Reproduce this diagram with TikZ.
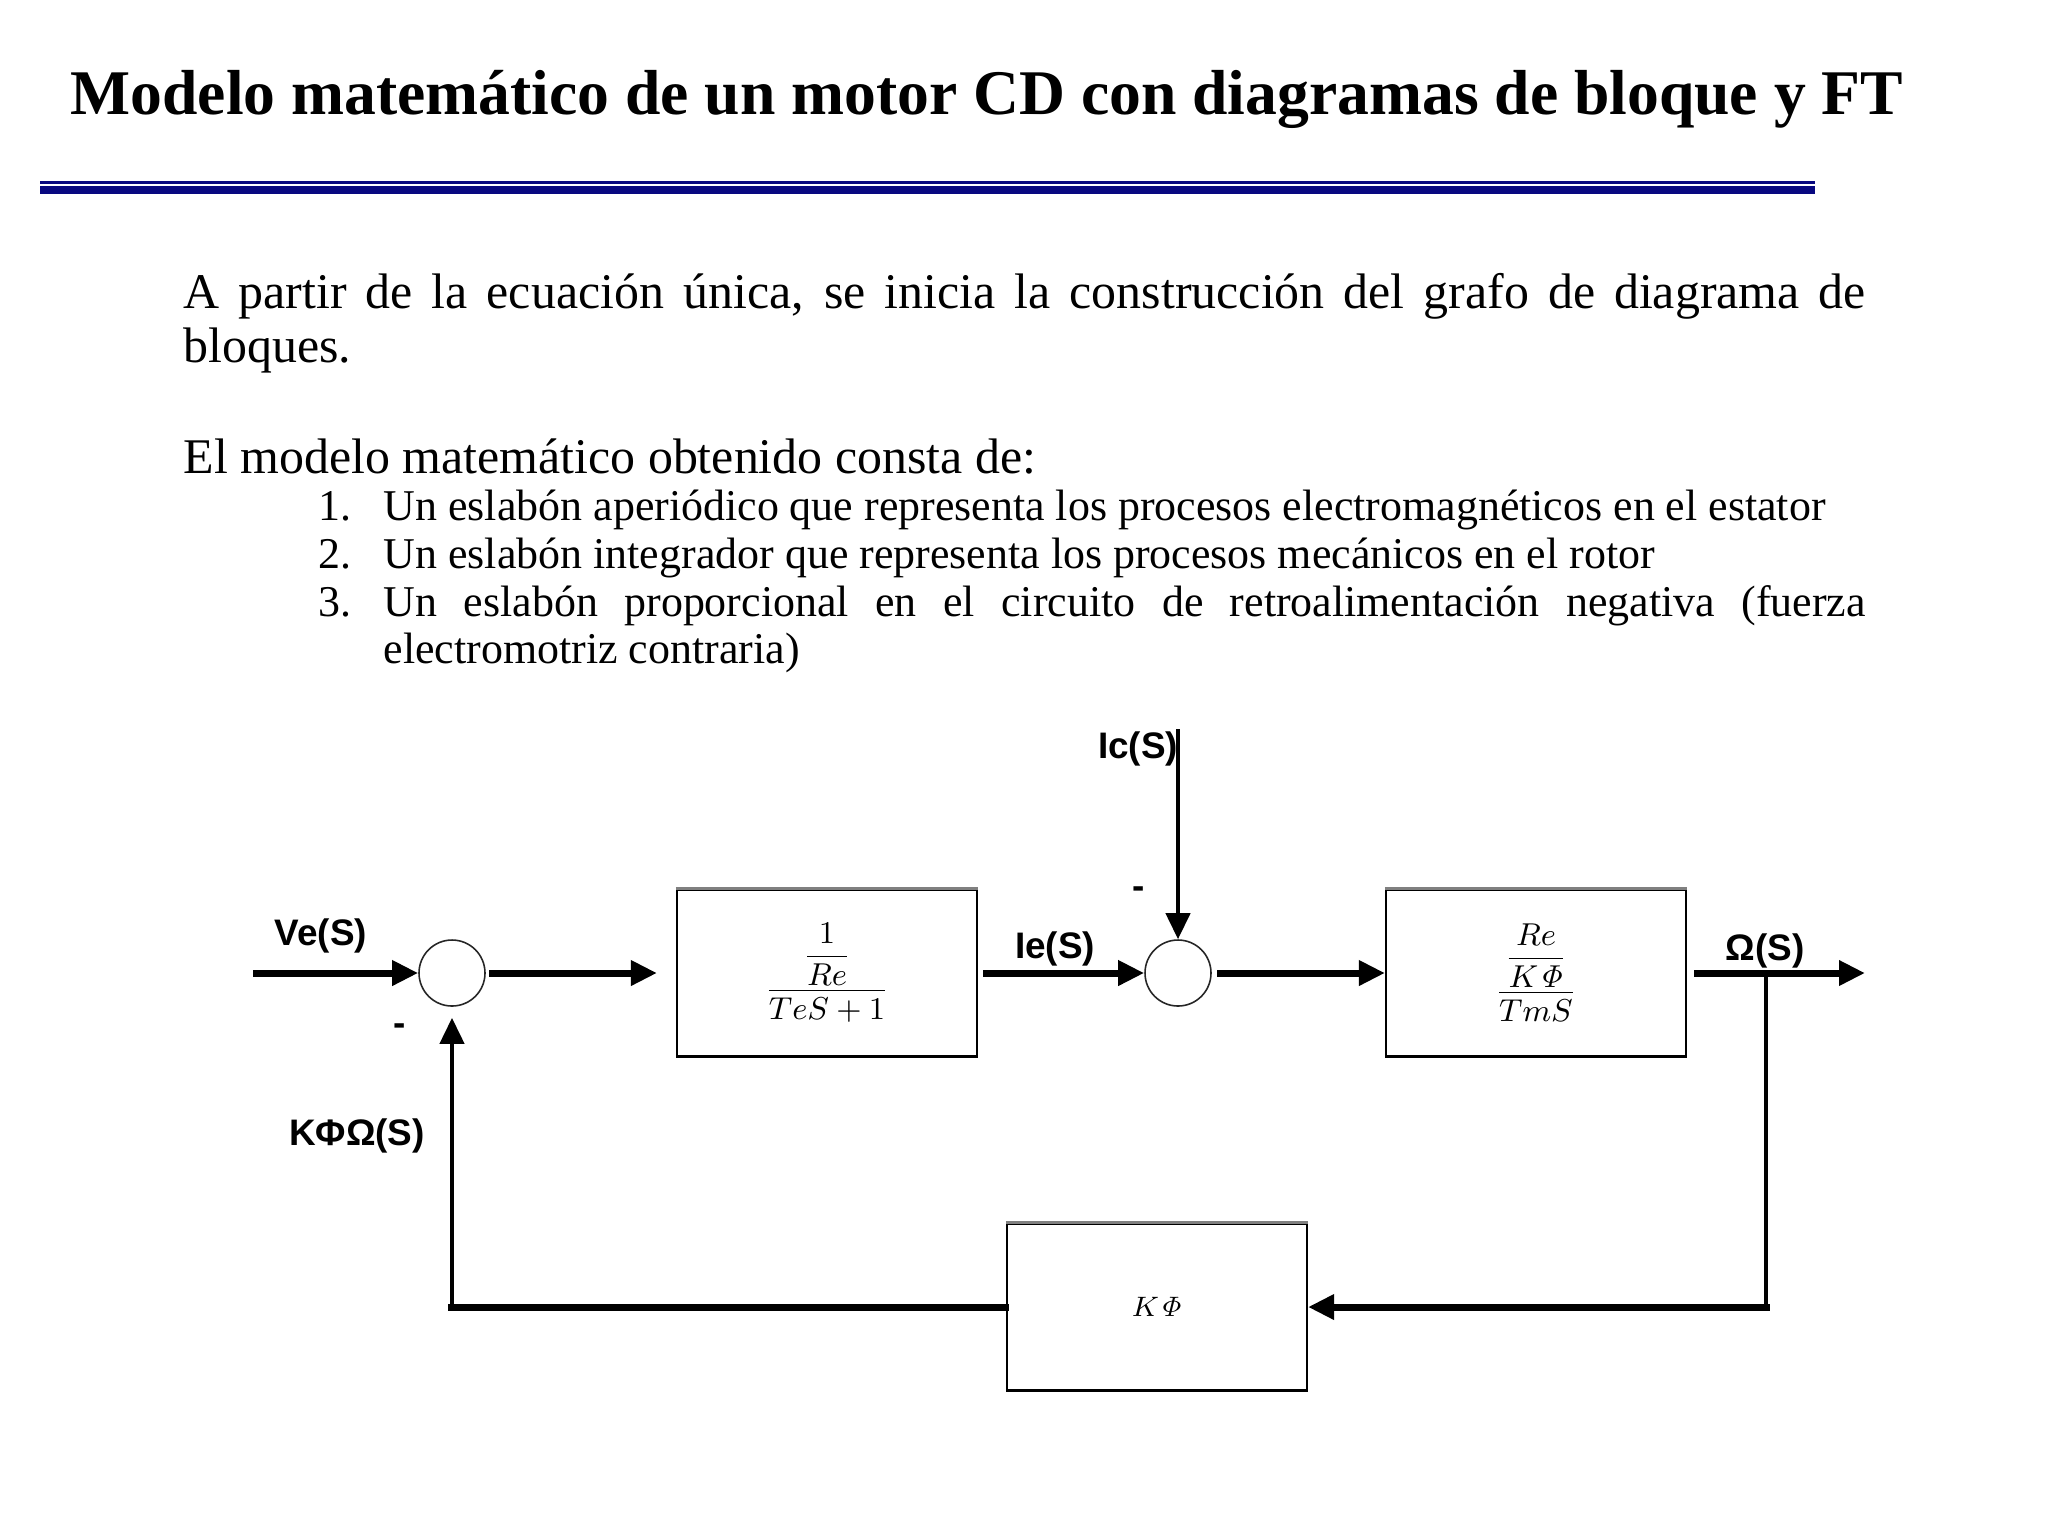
\documentclass[tikz,border=0pt]{standalone}
\usepackage{amsmath}
\usepackage[no-math]{fontspec}
\setmainfont{Liberation Serif}
\newfontfamily\sansetiq{Liberation Sans}
\usepackage{tikz}
\usetikzlibrary{arrows.meta}
\definecolor{azulmarino}{RGB}{8,8,128}
\definecolor{grisborde}{gray}{0.50}

\begin{document}
\begin{tikzpicture}[x=0.1mm,y=-0.1mm,>={Triangle[length=2.6mm,width=2.4mm]},
  texto/.style={inner sep=0pt,anchor=base west},
  etiq/.style={inner sep=0pt,font=\sansetiq\bfseries\fontsize{10.5}{12}\selectfont},
  bloque/.style={draw,line width=0.6pt,minimum width=30mm,minimum height=16.7mm,inner sep=0pt,font=\fontsize{9.3}{11}\selectfont},
  suma/.style={circle,draw=black!85,line width=0.45pt,minimum size=6.6mm,inner sep=0pt},
  gruesa/.style={line width=2pt,line cap=rect},
  fina/.style={line width=1.2pt,line cap=rect}]
  \path[use as bounding box,fill=white] (0,0) rectangle (2048,1536);
  % encabezado
  \node[texto,font=\bfseries\fontsize{18.1}{20}\selectfont] (titulo) at (70,114) {Modelo matemático de un motor CD con diagramas de bloque y FT};
  \fill[azulmarino] (40,181) rectangle (1815,184);
  \fill[azulmarino] (40,186) rectangle (1815,194);
  % texto
  \begin{scope}[font=\fontsize{14.2}{15}\selectfont]
    \node[texto] (par1a) at (183,308) {\makebox[168.2mm][s]{A partir de la ecuación única, se inicia la construcción del grafo de diagrama de}};
    \node[texto] (par1b) at (183,362) {bloques.};
    \node[texto] (par2) at (183,473) {El modelo matemático obtenido consta de:};
  \end{scope}
  \begin{scope}[font=\fontsize{12.5}{13.6}\selectfont]
    \node[texto] (num1) at (318,520) {1.};
    \node[texto] (num2) at (318,568) {2.};
    \node[texto] (num3) at (318,616) {3.};
    \node[texto] (item1) at (383,520) {Un eslabón aperiódico que representa los procesos electromagnéticos en el estator};
    \node[texto] (item2) at (383,568) {Un eslabón integrador que representa los procesos mecánicos en el rotor};
    \node[texto] (item3a) at (383,616) {\makebox[148.2mm][s]{Un eslabón proporcional en el circuito de retroalimentación negativa (fuerza}};
    \node[texto] (item3b) at (383,663) {electromotriz contraria)};
  \end{scope}
  % diagrama
  \coordinate (ve) at (257,973);
  \node[suma] (s1) at (452,973) {};
  \node[bloque] (b1) at (827,973) {$\dfrac{\dfrac{1}{Re}}{TeS+1}$};
  \node[suma] (s2) at (1178,973) {};
  \coordinate (ic) at (1178,731);
  \node[bloque] (b2) at (1536,973) {$\dfrac{\dfrac{Re}{K\mathit{\Phi}}}{TmS}$};
  \coordinate (sal) at (1865,973);
  \coordinate (rama) at (1766,973);
  \node[bloque,font=\fontsize{8}{9}\selectfont] (b3) at (1157,1307) {$K\mathit{\Phi}$};
  \coordinate (fbd) at (rama |- b3.east);
  \coordinate (fbi) at (s1 |- b3.west);
  \foreach \b in {b1,b2,b3}
    \draw[grisborde,line width=1.1pt] (\b.north west) -- (\b.north east);
  \draw[gruesa,->] (ve) -- (s1.west);
  \draw[gruesa,->,shorten <=0.7mm,shorten >=1.9mm] (s1.east) -- (b1.west);
  \draw[gruesa,->,shorten <=0.8mm] (b1.east) -- (s2.west);
  \draw[fina,->] (ic) -- (s2.north);
  \draw[gruesa,->,shorten <=0.9mm] (s2.east) -- (b2.west);
  \draw[gruesa,->,shorten <=1mm] (b2.east) -- (sal);
  \draw[fina] (rama) -- (fbd);
  \draw[gruesa,->] (fbd) -- (b3.east);
  \draw[gruesa] (b3.west) -- (fbi);
  \draw[fina,->,shorten >=1.1mm] (fbi) -- (s1.south);
  \node[etiq] (lve) at (321,936) {Ve(S)};
  \node[etiq] (lie) at (1055,949) {Ie(S)};
  \node[etiq] (lic) at (1138,749) {Ic(S)};
  \node[etiq] (lom) at (1765,951) {Ω(S)};
  \node[etiq] (lkf) at (357,1136) {KΦΩ(S)};
  \node[etiq] (m1) at (400,1030) {-};
  \node[etiq] (m2) at (1139,893) {-};
\end{tikzpicture}
\end{document}
